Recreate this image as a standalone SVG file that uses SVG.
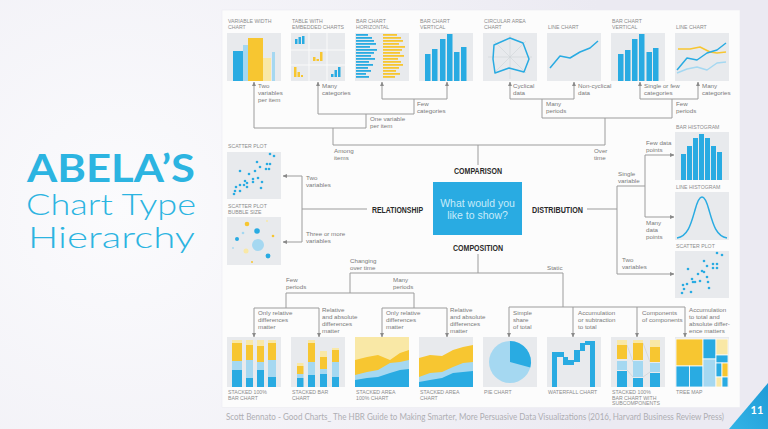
<svg xmlns="http://www.w3.org/2000/svg" width="768" height="429" viewBox="0 0 768 429">
<defs>
<radialGradient id="bgg" cx="120" cy="210" r="520" gradientUnits="userSpaceOnUse">
<stop offset="0" stop-color="#fbfbfd"/><stop offset="1" stop-color="#ebeaf2"/>
</radialGradient>
<linearGradient id="tri" x1="0" y1="1" x2="1" y2="0"><stop offset="0" stop-color="#33b4e6"/><stop offset="1" stop-color="#1e9bd7"/></linearGradient>
<marker id="ah" viewBox="0 0 6 6" refX="5.5" refY="3" markerWidth="4.5" markerHeight="4.5" orient="auto" markerUnits="userSpaceOnUse"><path d="M0,0.3 L6,3 L0,5.7 z" fill="#8a8a8a"/></marker>
<style>
.t{font-family:'Liberation Sans',Arial,sans-serif;font-size:5.2px;fill:#8c8c8c}
.a{font-family:'Liberation Sans',Arial,sans-serif;font-size:6.2px;fill:#7a7a7a}
.h{font-family:'Liberation Sans',Arial,sans-serif;font-weight:bold;font-size:8.6px;fill:#2a2a2a}
.bg{fill:#e8eaed}
.c{fill:none;stroke:#9c9c9c;stroke-width:1}
.ar{marker-end:url(#ah)}
.B{fill:#29abe2}.LB{fill:#a5d8f1}.Y{fill:#f7c631}.LY{fill:#f9e8a6}
.ln{fill:none;stroke:#29abe2;stroke-width:1.5;stroke-linejoin:round}
</style>
</defs>
<rect width="768" height="429" fill="url(#bgg)"/>
<rect x="222" y="10" width="518" height="397.5" fill="#fcfcfc" stroke="#ececf0" stroke-width="0.6"/>

<g id="title" font-family="Lato,'Liberation Sans',sans-serif" fill="#2cb4e1">
<text x="27" y="182" font-size="38" font-weight="bold" textLength="168" lengthAdjust="spacingAndGlyphs">ABELA’S</text>
<text x="26" y="215" font-size="29.5" font-weight="300" textLength="170" lengthAdjust="spacingAndGlyphs">Chart Type</text>
<text x="28" y="248" font-size="29.5" font-weight="300" textLength="167" lengthAdjust="spacingAndGlyphs">Hierarchy</text>
</g>

<g id="connectors">
<path class="c ar" d="M254,128 V82"/>
<path class="c ar" d="M318,114 V82"/>
<path class="c ar" d="M382,99 V82"/>
<path class="c ar" d="M447,99 V82"/>
<path class="c" d="M382,99 H447 M414,99 V114 M318,114 H414 M366,114 V128 M254,128 H366 M333,128 V145 H605 M478,145 V165"/>
<path class="c" d="M605,145 V118 M542,118 H672 M542,118 V99 M510,99 H574 M672,118 V99 M640,99 H698"/>
<path class="c ar" d="M510,99 V82"/>
<path class="c ar" d="M574,99 V82"/>
<path class="c ar" d="M640,99 V82"/>
<path class="c ar" d="M698,99 V82"/>
<path class="c" d="M367,209 H302 M302,176 V242"/>
<path class="c ar" d="M302,176 H283"/>
<path class="c ar" d="M302,242 H283"/>
<path class="c" d="M587,209 H617 M617,186 V274 M617,186 H645 M645,155 V217"/>
<path class="c ar" d="M645,155 H674"/>
<path class="c ar" d="M645,217 H674"/>
<path class="c ar" d="M617,274 H674"/>
<path class="c" d="M478,254 V273 M350,273 H563 M350,273 V293 M286,293 H414 M286,293 V308 M254,308 H319 M414,293 V308 M382,308 H447 M563,273 V307 M509,307 H685"/>
<path class="c ar" d="M254,308 V337"/>
<path class="c ar" d="M319,308 V337"/>
<path class="c ar" d="M382,308 V337"/>
<path class="c ar" d="M447,308 V337"/>
<path class="c ar" d="M509,307 V337"/>
<path class="c ar" d="M573,307 V337"/>
<path class="c ar" d="M637,307 V337"/>
<path class="c ar" d="M685,307 V337"/>
</g>

<g id="labels" class="a">
<text x="258" y="88">Two<tspan x="258" dy="7">variables</tspan><tspan x="258" dy="7">per item</tspan></text>
<text x="322" y="88">Many<tspan x="322" dy="7">categories</tspan></text>
<text x="417" y="106">Few<tspan x="417" dy="7">categories</tspan></text>
<text x="370" y="121">One variable<tspan x="370" dy="7">per item</tspan></text>
<text x="334" y="153">Among<tspan x="334" dy="7">items</tspan></text>
<text x="594" y="153">Over<tspan x="594" dy="7">time</tspan></text>
<text x="513" y="88">Cyclical<tspan x="513" dy="7">data</tspan></text>
<text x="578" y="88">Non-cyclical<tspan x="578" dy="7">data</tspan></text>
<text x="546" y="106">Many<tspan x="546" dy="7">periods</tspan></text>
<text x="644" y="88">Single or few<tspan x="644" dy="7">categories</tspan></text>
<text x="702" y="88">Many<tspan x="702" dy="7">categories</tspan></text>
<text x="676" y="106">Few<tspan x="676" dy="7">periods</tspan></text>
<text x="306" y="180">Two<tspan x="306" dy="7">variables</tspan></text>
<text x="306" y="236">Three or more<tspan x="306" dy="7">variables</tspan></text>
<text x="618" y="176">Single<tspan x="618" dy="7">variable</tspan></text>
<text x="646" y="145">Few data<tspan x="646" dy="7">points</tspan></text>
<text x="646" y="225">Many<tspan x="646" dy="7">data</tspan><tspan x="646" dy="7">points</tspan></text>
<text x="622" y="262">Two<tspan x="622" dy="7">variables</tspan></text>
<text x="350" y="263">Changing<tspan x="350" dy="7">over time</tspan></text>
<text x="547" y="270">Static</text>
<text x="286" y="282">Few<tspan x="286" dy="7">periods</tspan></text>
<text x="393" y="282">Many<tspan x="393" dy="7">periods</tspan></text>
<text x="258" y="315">Only relative<tspan x="258" dy="7">differences</tspan><tspan x="258" dy="7">matter</tspan></text>
<text x="322" y="312">Relative<tspan x="322" dy="7">and absolute</tspan><tspan x="322" dy="7">differences</tspan><tspan x="322" dy="7">matter</tspan></text>
<text x="386" y="315">Only relative<tspan x="386" dy="7">differences</tspan><tspan x="386" dy="7">matter</tspan></text>
<text x="450" y="312">Relative<tspan x="450" dy="7">and absolute</tspan><tspan x="450" dy="7">differences</tspan><tspan x="450" dy="7">matter</tspan></text>
<text x="513" y="315">Simple<tspan x="513" dy="7">share</tspan><tspan x="513" dy="7">of total</tspan></text>
<text x="578" y="315">Accumulation<tspan x="578" dy="7">or subtraction</tspan><tspan x="578" dy="7">to total</tspan></text>
<text x="642" y="315">Components<tspan x="642" dy="7">of components</tspan></text>
<text x="689" y="312">Accumulation<tspan x="689" dy="7">to total and</tspan><tspan x="689" dy="7">absolute differ-</tspan><tspan x="689" dy="7">ence matters</tspan></text>
</g>

<g id="center">
<rect x="433" y="182" width="89" height="53" fill="#29abe2"/>
<text x="477.5" y="207" text-anchor="middle" font-family="'Liberation Sans',Arial,sans-serif" font-size="10.5" fill="#c8ebfa">What would you</text>
<text x="477.5" y="219" text-anchor="middle" font-family="'Liberation Sans',Arial,sans-serif" font-size="10.5" fill="#c8ebfa">like to show?</text>
</g>
<g id="comparison"><text class="h" x="454" y="174" textLength="48" lengthAdjust="spacingAndGlyphs">COMPARISON</text></g>
<g id="composition"><text class="h" x="453" y="251" textLength="50" lengthAdjust="spacingAndGlyphs">COMPOSITION</text></g>
<g id="relationship"><text class="h" x="372" y="213" textLength="51" lengthAdjust="spacingAndGlyphs">RELATIONSHIP</text></g>
<g id="distribution"><text class="h" x="532" y="213" textLength="51" lengthAdjust="spacingAndGlyphs">DISTRIBUTION</text></g>

<g id="variable-width">
<text class="t" x="228" y="23">VARIABLE WIDTH<tspan x="228" dy="5.5">CHART</tspan></text>
<rect class="bg" x="227" y="33" width="54" height="48"/>
<rect class="B" x="233" y="51" width="10" height="30"/>
<rect class="LB" x="243" y="45" width="5" height="36"/>
<rect class="Y" x="248" y="38" width="15" height="43"/>
<rect class="LY" x="263" y="58" width="8" height="23"/>
<rect class="LB" x="272" y="52" width="3" height="29"/>
</g>
<g id="table-embedded">
<text class="t" x="292" y="23">TABLE WITH<tspan x="292" dy="5.5">EMBEDDED CHARTS</tspan></text>
<rect class="bg" x="291" y="33" width="54" height="48"/>
<path d="M309,33 V81 M327,33 V81 M291,50 H345 M291,65 H345" stroke="#fafafa" stroke-width="1"/>
<rect class="B" x="295" y="39" width="2.5" height="5"/><rect class="B" x="298.5" y="37" width="2.5" height="7"/><rect class="B" x="302" y="36" width="2.5" height="8"/>
<rect class="Y" x="313" y="57" width="2.5" height="4"/><rect class="Y" x="316.5" y="59" width="2.5" height="2"/><rect class="Y" x="320" y="52" width="2.5" height="9"/>
<rect class="Y" x="294" y="67" width="2.5" height="10"/><rect class="Y" x="297.5" y="72" width="2.5" height="5"/><rect class="Y" x="301" y="75" width="2" height="2"/>
<rect class="B" x="331" y="74" width="2.5" height="3"/><rect class="B" x="334.5" y="70" width="2.5" height="7"/><rect class="B" x="338" y="67" width="2.5" height="10"/>
</g>
<g id="bar-horizontal">
<text class="t" x="356" y="23">BAR CHART<tspan x="356" dy="5.5">HORIZONTAL</tspan></text>
<rect class="bg" x="355" y="33" width="54" height="48"/>
<g class="B">
<rect x="356" y="34" width="12" height="1.8"/><rect x="356" y="37" width="16" height="1.8"/><rect x="356" y="40" width="18" height="1.8"/><rect x="356" y="43" width="20" height="1.8"/><rect x="356" y="46" width="14" height="1.8"/><rect x="356" y="49" width="21" height="1.8"/><rect x="356" y="52" width="18" height="1.8"/><rect x="356" y="55" width="15" height="1.8"/><rect x="356" y="58" width="19" height="1.8"/><rect x="356" y="61" width="13" height="1.8"/><rect x="356" y="64" width="17" height="1.8"/><rect x="356" y="67" width="12" height="1.8"/><rect x="356" y="70" width="15" height="1.8"/><rect x="356" y="73" width="10" height="1.8"/><rect x="356" y="76" width="13" height="1.8"/>
</g>
<g class="Y">
<rect x="383" y="34" width="14" height="1.8"/><rect x="383" y="37" width="18" height="1.8"/><rect x="383" y="40" width="20" height="1.8"/><rect x="383" y="43" width="16" height="1.8"/><rect x="383" y="46" width="22" height="1.8"/><rect x="383" y="49" width="19" height="1.8"/><rect x="383" y="52" width="17" height="1.8"/><rect x="383" y="55" width="21" height="1.8"/><rect x="383" y="58" width="15" height="1.8"/><rect x="383" y="61" width="18" height="1.8"/><rect x="383" y="64" width="20" height="1.8"/><rect x="383" y="67" width="16" height="1.8"/><rect x="383" y="70" width="13" height="1.8"/><rect x="383" y="73" width="17" height="1.8"/><rect x="383" y="76" width="12" height="1.8"/>
</g>
</g>
<g id="bar-vertical-1">
<text class="t" x="420" y="23">BAR CHART<tspan x="420" dy="5.5">VERTICAL</tspan></text>
<rect class="bg" x="419" y="33" width="54" height="48"/>
<g class="B"><rect x="425" y="54" width="5.5" height="27"/><rect x="432" y="49" width="5.5" height="32"/><rect x="440" y="39" width="5.5" height="42"/><rect x="447" y="34" width="5.5" height="47"/><rect x="454" y="52" width="5.5" height="29"/><rect x="461" y="47" width="5.5" height="34"/></g>
</g>
<g id="circular-area">
<text class="t" x="484" y="23">CIRCULAR AREA<tspan x="484" dy="5.5">CHART</tspan></text>
<rect class="bg" x="483" y="33" width="54" height="48"/>
<path d="M510,35 V79 M488,57 H532 M494,41 L526,73 M526,41 L494,73" stroke="#cfd3d6" stroke-width="0.6"/>
<polygon class="ln" points="494,45 510,38 523,43 529,59 524,72 509,68 495,73 493,59"/>
</g>
<g id="line-chart-1">
<text class="t" x="548" y="28.5">LINE CHART</text>
<rect class="bg" x="547" y="33" width="54" height="48"/>
<polyline class="ln" points="550,68 560,56 570,58 580,52 590,48 598,41"/>
</g>
<g id="bar-vertical-2">
<text class="t" x="612" y="23">BAR CHART<tspan x="612" dy="5.5">VERTICAL</tspan></text>
<rect class="bg" x="611" y="33" width="54" height="48"/>
<g class="B"><rect x="618" y="54" width="5.5" height="27"/><rect x="625" y="50" width="5.5" height="31"/><rect x="632" y="39" width="5.5" height="42"/><rect x="639" y="34" width="5.5" height="47"/><rect x="646.5" y="52" width="5.5" height="29"/><rect x="653" y="48" width="5.5" height="33"/></g>
</g>
<g id="line-chart-2">
<text class="t" x="676" y="28.5">LINE CHART</text>
<rect class="bg" x="675" y="33" width="54" height="48"/>
<polyline class="ln" style="stroke:#f7c631" points="678,49 690,49 700,47 710,52 717,53 726,52"/>
<polyline class="ln" style="stroke:#a5d8f1" points="677,73 687,69 697,67 707,70 717,63 726,62"/>
<polyline class="ln" points="677,70 687,58 697,60 707,53 717,50 726,43"/>
</g>

<g id="scatter-1">
<text class="t" x="228" y="148">SCATTER PLOT</text>
<rect class="bg" x="227" y="152" width="54" height="47"/>
<g class="B">
<circle cx="270" cy="154" r="1.3"/><circle cx="274" cy="156" r="1.3"/><circle cx="257" cy="162" r="1.3"/><circle cx="267" cy="164" r="1.3"/><circle cx="270" cy="164" r="1.3"/><circle cx="260" cy="167" r="1.3"/><circle cx="266" cy="169" r="1.3"/><circle cx="269" cy="169" r="1.3"/><circle cx="240" cy="171" r="1.3"/><circle cx="255" cy="171" r="1.3"/><circle cx="249" cy="174" r="1.3"/><circle cx="258" cy="178" r="1.3"/><circle cx="253" cy="179" r="1.3"/><circle cx="245" cy="181" r="1.3"/><circle cx="247" cy="183" r="1.3"/><circle cx="253" cy="182" r="1.3"/><circle cx="262" cy="182" r="1.3"/><circle cx="240" cy="185" r="1.3"/><circle cx="244" cy="185" r="1.3"/><circle cx="236" cy="187" r="1.3"/><circle cx="247" cy="187" r="1.3"/><circle cx="235" cy="191" r="1.3"/><circle cx="240" cy="191" r="1.3"/><circle cx="261" cy="188" r="1.3"/><circle cx="234" cy="194" r="1.3"/>
</g>
</g>
<g id="bubble">
<text class="t" x="228" y="208">SCATTER PLOT<tspan x="228" dy="5.5">BUBBLE SIZE</tspan></text>
<rect class="bg" x="227" y="217" width="54" height="48"/>
<circle class="LB" cx="258" cy="245" r="6"/>
<circle class="Y" cx="247" cy="224" r="2.3"/>
<circle class="B" cx="257" cy="231" r="2.8"/>
<circle class="LB" cx="243" cy="233" r="1.3"/>
<circle class="B" cx="237" cy="239" r="2"/>
<circle class="Y" cx="273" cy="236" r="1.3"/>
<circle class="LY" cx="246" cy="251" r="2.5"/>
<circle class="B" cx="268" cy="256" r="2.4"/>
<circle class="Y" cx="252" cy="262" r="1"/>
<circle class="LB" cx="233" cy="248" r="0.9"/>
<circle class="LY" cx="267" cy="221" r="1"/>
</g>

<g id="bar-histogram">
<text class="t" x="676" y="129">BAR HISTOGRAM</text>
<rect class="bg" x="675" y="132" width="54" height="48"/>
<g class="B"><rect x="681" y="154" width="5" height="26"/><rect x="687" y="146" width="5" height="34"/><rect x="693" y="138" width="5" height="42"/><rect x="699" y="134" width="5" height="46"/><rect x="705" y="138" width="5" height="42"/><rect x="711" y="146" width="5" height="34"/><rect x="717" y="152" width="5" height="28"/></g>
</g>
<g id="line-histogram">
<text class="t" x="676" y="189">LINE HISTOGRAM</text>
<rect class="bg" x="675" y="192" width="54" height="48"/>
<path class="ln" d="M677,238 C688,236 691,224 695,210 C698,199 700,197 702,197 C704,197 706,199 709,210 C713,224 716,236 727,238"/>
</g>
<g id="scatter-2">
<text class="t" x="676" y="248">SCATTER PLOT</text>
<rect class="bg" x="675" y="251" width="54" height="47"/>
<g class="B">
<circle cx="717" cy="253" r="1.3"/><circle cx="722" cy="255" r="1.3"/><circle cx="704" cy="261" r="1.3"/><circle cx="713" cy="264" r="1.3"/><circle cx="717" cy="264" r="1.3"/><circle cx="707" cy="266" r="1.3"/><circle cx="713" cy="268" r="1.3"/><circle cx="717" cy="268" r="1.3"/><circle cx="688" cy="269" r="1.3"/><circle cx="702" cy="271" r="1.3"/><circle cx="704" cy="272" r="1.3"/><circle cx="698" cy="274" r="1.3"/><circle cx="707" cy="277" r="1.3"/><circle cx="692" cy="279" r="1.3"/><circle cx="693" cy="282" r="1.3"/><circle cx="695" cy="282" r="1.3"/><circle cx="700" cy="281" r="1.3"/><circle cx="708" cy="282" r="1.3"/><circle cx="687" cy="284" r="1.3"/><circle cx="683" cy="285" r="1.3"/><circle cx="709" cy="288" r="1.3"/><circle cx="684" cy="289" r="1.3"/><circle cx="691" cy="292" r="1.3"/><circle cx="682" cy="293" r="1.3"/>
</g>
</g>

<g id="stacked-100-bar">
<rect class="bg" x="227" y="337" width="54" height="50"/>
<rect class="LY" x="232" y="340" width="10" height="3"/><rect class="Y" x="232" y="343" width="10" height="18"/><rect class="LB" x="232" y="361" width="10" height="9"/><rect class="B" x="232" y="370" width="10" height="17"/>
<rect class="LY" x="246" y="340" width="7" height="5"/><rect class="Y" x="246" y="345" width="7" height="15"/><rect class="LB" x="246" y="360" width="7" height="18"/><rect class="B" x="246" y="378" width="7" height="9"/>
<rect class="LY" x="257" y="340" width="7" height="6"/><rect class="Y" x="257" y="346" width="7" height="16"/><rect class="LB" x="257" y="362" width="7" height="8"/><rect class="B" x="257" y="370" width="7" height="17"/>
<rect class="LY" x="268" y="340" width="8" height="3"/><rect class="Y" x="268" y="343" width="8" height="17"/><rect class="LB" x="268" y="360" width="8" height="17"/><rect class="B" x="268" y="377" width="8" height="10"/>
<text class="t" x="228" y="394">STACKED 100%<tspan x="228" dy="5.5">BAR CHART</tspan></text>
</g>
<g id="stacked-bar">
<rect class="bg" x="291" y="337" width="54" height="50"/>
<rect class="LY" x="297" y="363" width="6.5" height="3"/><rect class="Y" x="297" y="366" width="6.5" height="8"/><rect class="LB" x="297" y="374" width="6.5" height="4"/><rect class="B" x="297" y="378" width="6.5" height="9"/>
<rect class="LY" x="308" y="340" width="7" height="3"/><rect class="Y" x="308" y="343" width="7" height="19"/><rect class="LB" x="308" y="362" width="7" height="13"/><rect class="B" x="308" y="375" width="7" height="12"/>
<rect class="LY" x="320" y="351" width="7" height="6"/><rect class="Y" x="320" y="357" width="7" height="12"/><rect class="LB" x="320" y="369" width="7" height="5"/><rect class="B" x="320" y="374" width="7" height="13"/>
<rect class="LY" x="332" y="348" width="7" height="2"/><rect class="Y" x="332" y="350" width="7" height="12"/><rect class="LB" x="332" y="362" width="7" height="15"/><rect class="B" x="332" y="377" width="7" height="10"/>
<text class="t" x="292" y="394">STACKED BAR<tspan x="292" dy="5.5">CHART</tspan></text>
</g>
<g id="stacked-area-100">
<rect class="LY" x="355" y="337" width="54" height="50"/>
<polygon class="Y" points="355,360 367,357 378,355 390,360 400,353 409,350 409,387 355,387"/>
<polygon class="LB" points="355,375 367,372 378,370 390,363 400,362 409,360 409,387 355,387"/>
<polygon class="B" points="355,380 367,378 378,377 390,373 400,370 409,369 409,387 355,387"/>
<text class="t" x="356" y="394">STACKED AREA<tspan x="356" dy="5.5">100% CHART</tspan></text>
</g>
<g id="stacked-area">
<rect class="bg" x="419" y="337" width="54" height="50"/>
<polygon class="Y" points="419,358 430,355 442,356 453,350 463,347 473,345 473,387 419,387"/>
<polygon class="LB" points="419,377 430,373 442,372 453,367 463,363 473,362 473,387 419,387"/>
<polygon class="B" points="419,382 430,380 442,378 453,373 463,372 473,371 473,387 419,387"/>
<text class="t" x="420" y="394">STACKED AREA<tspan x="420" dy="5.5">CHART</tspan></text>
</g>
<g id="pie">
<rect class="bg" x="483" y="337" width="54" height="50"/>
<circle class="LB" cx="510" cy="362" r="21"/>
<path class="B" d="M510,362 V341 A21,21 0 0 1 530.3,367.4 Z"/>
<text class="t" x="484" y="394">PIE CHART</text>
</g>
<g id="waterfall">
<rect class="bg" x="547" y="337" width="54" height="50"/>
<g class="B"><rect x="552" y="352" width="5" height="35"/><rect x="557" y="352" width="7" height="5"/><rect x="563" y="357" width="5" height="8"/><rect x="568" y="360" width="6" height="5"/><rect x="574" y="350" width="6" height="12"/><rect x="580" y="343" width="5" height="8"/><rect x="585" y="341" width="5" height="4"/><rect x="590" y="341" width="5" height="46"/></g>
<text class="t" x="548" y="394">WATERFALL CHART</text>
</g>
<g id="stacked-100-sub">
<rect class="bg" x="611" y="337" width="54" height="50"/>
<path d="M627,345 L633,362 M643,343 L650,362 M627,370 L633,377 M643,377 L650,372" stroke="#c9ccd0" stroke-width="0.6"/>
<rect class="LY" x="617" y="340" width="10" height="5"/><rect class="Y" x="617" y="345" width="10" height="14"/><rect class="LB" x="617" y="361" width="10" height="9"/><rect class="B" x="617" y="371" width="10" height="16"/>
<rect class="LY" x="633" y="340" width="10" height="3"/><rect class="Y" x="633" y="343" width="10" height="17"/><rect class="LB" x="633" y="361" width="10" height="16"/><rect class="B" x="633" y="378" width="10" height="9"/>
<rect class="LY" x="650" y="340" width="10" height="7"/><rect class="Y" x="650" y="347" width="10" height="15"/><rect class="LB" x="650" y="363" width="10" height="9"/><rect class="B" x="650" y="373" width="10" height="14"/>
<text class="t" x="612" y="394">STACKED 100%<tspan x="612" dy="5.5">BAR CHART WITH</tspan><tspan x="612" dy="5.5">SUBCOMPONENTS</tspan></text>
</g>
<g id="tree-map" stroke="#fcfcfc" stroke-width="0.8">
<rect class="bg" x="675" y="337" width="54" height="50" stroke="none"/>
<rect class="Y" x="676" y="339" width="27" height="27"/>
<rect class="B" x="676" y="366" width="13.5" height="21"/><rect class="B" x="689.5" y="366" width="13.5" height="21"/>
<rect class="B" x="703" y="339" width="13" height="20"/><rect class="LY" x="716" y="339" width="12" height="16"/>
<rect class="LB" x="703" y="359" width="13" height="28"/>
<rect class="B" x="716" y="355" width="12" height="8"/><rect class="B" x="716" y="363" width="6" height="14"/><rect class="Y" x="722" y="363" width="6" height="14"/>
<rect class="LY" x="716" y="377" width="6" height="10"/><rect class="B" x="722" y="377" width="6" height="10"/>
<text class="t" x="676" y="394" stroke="none">TREE MAP</text>
</g>

<g id="footer">
<text x="226" y="420" font-family="Lato,'Liberation Sans',sans-serif" font-size="8.6" fill="#aeaeb3" textLength="498" lengthAdjust="spacingAndGlyphs">Scott Bennato - Good Charts_ The HBR Guide to Making Smarter, More Persuasive Data Visualizations (2016, Harvard Business Review Press)</text>
<polygon points="729,429 768,383 768,429" fill="url(#tri)"/>
<text x="757" y="414" text-anchor="middle" font-family="Lato,'Liberation Sans',sans-serif" font-size="11" font-weight="bold" fill="#ffffff">11</text>
</g>
</svg>
